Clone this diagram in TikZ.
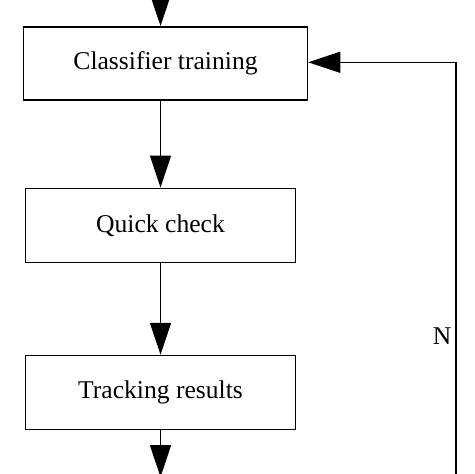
\documentclass[tikz,border=0pt]{standalone}
\usepackage{fontspec}
\setmainfont{Liberation Serif}
\usetikzlibrary{arrows.meta}
\begin{document}
\begin{tikzpicture}[x=0.5pt,y=-0.5pt,
    stepbox/.style={draw, line width=0.75pt, minimum width=135pt, minimum height=37pt,
        inner sep=0pt, font=\fontsize{12.8}{15}\selectfont},
    flow/.style={line width=0.75pt, -{Triangle[length=16pt,width=10.5pt]}}]
    \useasboundingbox (0,0) rectangle (474,474);
    \node[stepbox, minimum width=142pt, minimum height=36.5pt] (train) at (165.5,63.3) {Classifier training};
    \node[stepbox] (check) at (160.5,225.3) {Quick check};
    \node[stepbox] (track) at (160.5,392.5) {Tracking results};
    \coordinate (in) at (160.5,-40);
    \coordinate (out) at (160.5,477);
    \coordinate (loop) at (456,520);
    \coordinate (corner) at (456,62.3);
    \draw[flow] (in) -- (train.north -| in);
    \draw[flow] (train.south -| check.north) -- (check.north);
    \draw[flow] (check.south) -- (track.north);
    \draw[flow] (track.south) -- (out);
    \draw[flow] (loop) -- (corner) -- (train.east |- corner);
    \node[font=\fontsize{12.8}{15}\selectfont] (nlabel) at (442,336) {N};
\end{tikzpicture}
\end{document}
